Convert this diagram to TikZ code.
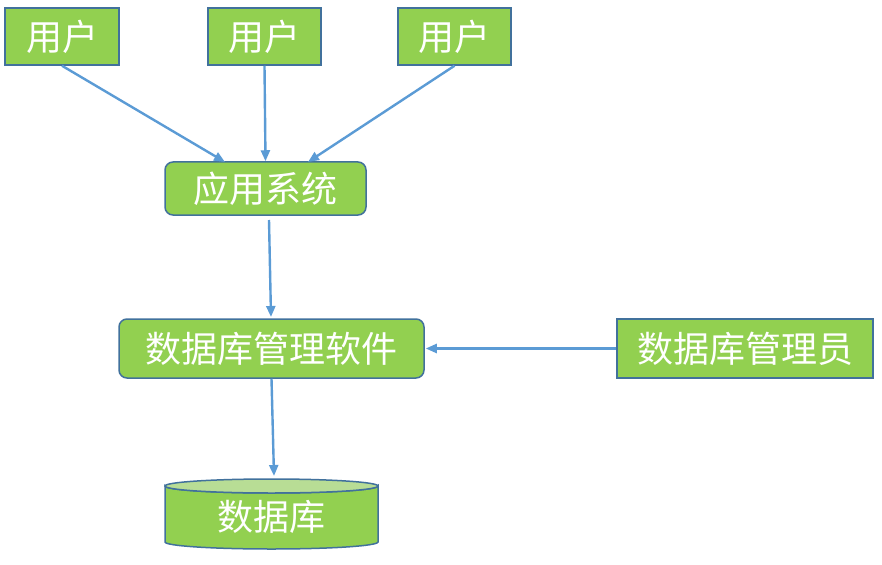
\documentclass[tikz,border=0pt]{standalone}
\usepackage{fontspec}
\newfontfamily\cjk{Noto Sans CJK SC}
\usetikzlibrary{arrows.meta}
\definecolor{fillg}{HTML}{92D050}
\definecolor{topg}{HTML}{B8DD95}
\definecolor{bord}{HTML}{41719C}
\definecolor{arr}{HTML}{5B9BD5}
\begin{document}
\begin{tikzpicture}[x=1pt,y=-1pt,
  box/.style={draw=bord,fill=fillg,line width=1.5pt,inner sep=0pt,text=white,font=\cjk\fontsize{36}{40}\selectfont},
  rbox/.style={box,rounded corners=8pt},
  conn/.style={draw=arr,line width=2.4pt,-{Triangle[length=11pt,width=9pt]}}]
\useasboundingbox (0,0) rectangle (882,564);
\node[box,minimum width=114pt,minimum height=57pt] (u1) at (62,36.5) {用户};
\node[box,minimum width=113pt,minimum height=57pt] (u2) at (264.5,36.5) {用户};
\node[box,minimum width=113pt,minimum height=57pt] (u3) at (454.5,36.5) {用户};
\node[rbox,minimum width=201pt,minimum height=53pt] (app) at (265.5,188.5) {应用系统};
\node[rbox,minimum width=305pt,minimum height=59pt] (dbms) at (271.5,348.5) {数据库管理软件};
\node[box,minimum width=256pt,minimum height=59pt] (dba) at (745,348.5) {数据库管理员};
% cylinder
\path[draw=bord,fill=fillg,line width=1.5pt] (165,486) -- (165,542) arc[start angle=180,end angle=360,x radius=106.5,y radius=-7] -- (378,486) arc[start angle=0,end angle=180,x radius=106.5,y radius=7] -- cycle;
\path[draw=bord,fill=topg,line width=1.5pt] (271.5,486) ellipse[x radius=106.5,y radius=7];
\node[text=white,font=\cjk\fontsize{36}{40}\selectfont] (db) at (271.5,517) {数据库};
\coordinate (dbtop) at (274,476);
\draw[conn] (u1.south) -- (225,162);
\draw[conn] (u2.south) -- (app.north);
\draw[conn] (u3.south) -- (308,162);
\draw[conn] (269,220) -- (271,317);
\draw[conn] (dbms.south) -- (dbtop);
\draw[conn] (dba.west) -- ([xshift=1pt]dbms.east);
\end{tikzpicture}
\end{document}
